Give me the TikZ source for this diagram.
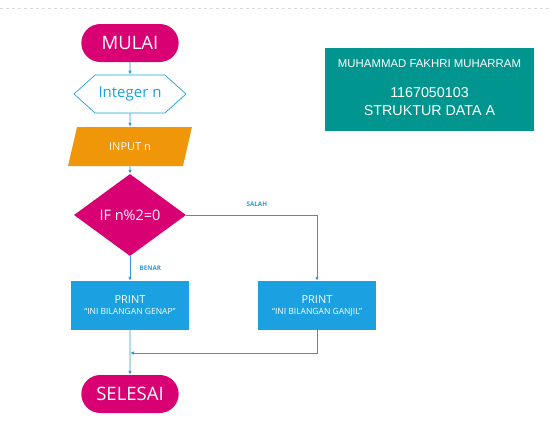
\documentclass[tikz,border=0pt]{standalone}
\usepackage{fontspec}
\setmainfont{Open Sans}
\newfontfamily\arialfont{Liberation Sans}
\usetikzlibrary{shapes.geometric,shapes.misc,shapes.symbols,arrows.meta}
\definecolor{pinkF}{HTML}{D80073}
\definecolor{blueF}{HTML}{1BA1E2}
\definecolor{orangeF}{HTML}{F09609}
\definecolor{tealF}{HTML}{00968F}
\definecolor{lineF}{HTML}{2E9AD0}
\begin{document}
\begin{tikzpicture}[x=1pt,y=-1pt,
  terminal/.style={rounded rectangle,fill=pinkF,text=white,minimum width=104pt,minimum height=38pt,font=\fontsize{18.5}{20}\selectfont},
  prep/.style={signal,signal to=west and east,signal pointer angle=84,draw=blueF,line width=0.7pt,fill=white,text=blueF,minimum width=112pt,minimum height=38pt,inner sep=0pt,font=\fontsize{15}{17}\selectfont},
  io/.style={trapezium,trapezium left angle=66,trapezium right angle=114,trapezium stretches=true,fill=orangeF,text=white,minimum width=124pt,minimum height=39pt,inner sep=0pt,font=\fontsize{11}{13}\selectfont},
  decision/.style={diamond,fill=pinkF,text=white,minimum width=112pt,minimum height=82pt,inner sep=0pt,font=\fontsize{14.5}{16}\selectfont},
  process/.style={rectangle,fill=blueF,text=white,minimum width=118pt,minimum height=49pt,align=center,font=\fontsize{11}{13}\selectfont},
  flow/.style={draw=lineF,line width=0.8pt},
  arrow/.style={flow,-{Latex[length=4pt,width=3.5pt]}},
  branch/.style={text=lineF,font=\bfseries\fontsize{6.3}{7}\selectfont},
  idtext/.style={text=white,inner sep=0pt}]
\useasboundingbox (0,0) rectangle (551,434);
% top border of the screenshot
\draw[black!15,dashed,line width=0.5pt] (0,8) -- (551,8);
% flowchart
\node[terminal] (mulai) at (130,43) {MULAI};
\node[prep] (integer) at (130,94) {Integer n};
\node[io] (input) at (130,146.5) {INPUT n};
\node[decision] (cek) at (130,215) {IF n\%2=0};
\node[process] (genap) at (130,305.5) {PRINT\\[-2pt]{\fontsize{8.5}{10}\selectfont ``INI BILANGAN GENAP''}};
\node[process] (ganjil) at (317,305.5) {PRINT\\[-2pt]{\fontsize{8.5}{10}\selectfont ``INI BILANGAN GANJIL''}};
\node[terminal] (selesai) at (130,394) {SELESAI};
\coordinate (gabung) at (130,353);
% identity box
\node[rectangle,fill=tealF,minimum width=209pt,minimum height=83pt] (nama) at (429.5,89.5) {};
\node[idtext,font=\arialfont\fontsize{11.4}{13}\selectfont] (nm) at (429.5,64) {MUHAMMAD FAKHRI MUHARRAM};
\node[idtext,font=\arialfont\fontsize{14.3}{16}\selectfont] (nim) at (429.5,92.5) {1167050103};
\node[idtext,font=\arialfont\fontsize{14.3}{16}\selectfont] (kelas) at (429.5,111) {STRUKTUR DATA A};
% connectors
\draw[arrow] (mulai) -- (integer);
\draw[arrow] (integer) -- (input);
\draw[arrow] (input) -- (cek);
\draw[arrow] (cek) -- node[branch,pos=0.5,right=6pt] (benar) {BENAR} (genap);
\draw[arrow] (cek.east) -| node[branch,pos=0.27,above=5pt] (salah) {SALAH} (ganjil.north);
\draw[arrow] (genap) -- (selesai);
\draw[arrow] (ganjil.south) |- (gabung);
\end{tikzpicture}
\end{document}
